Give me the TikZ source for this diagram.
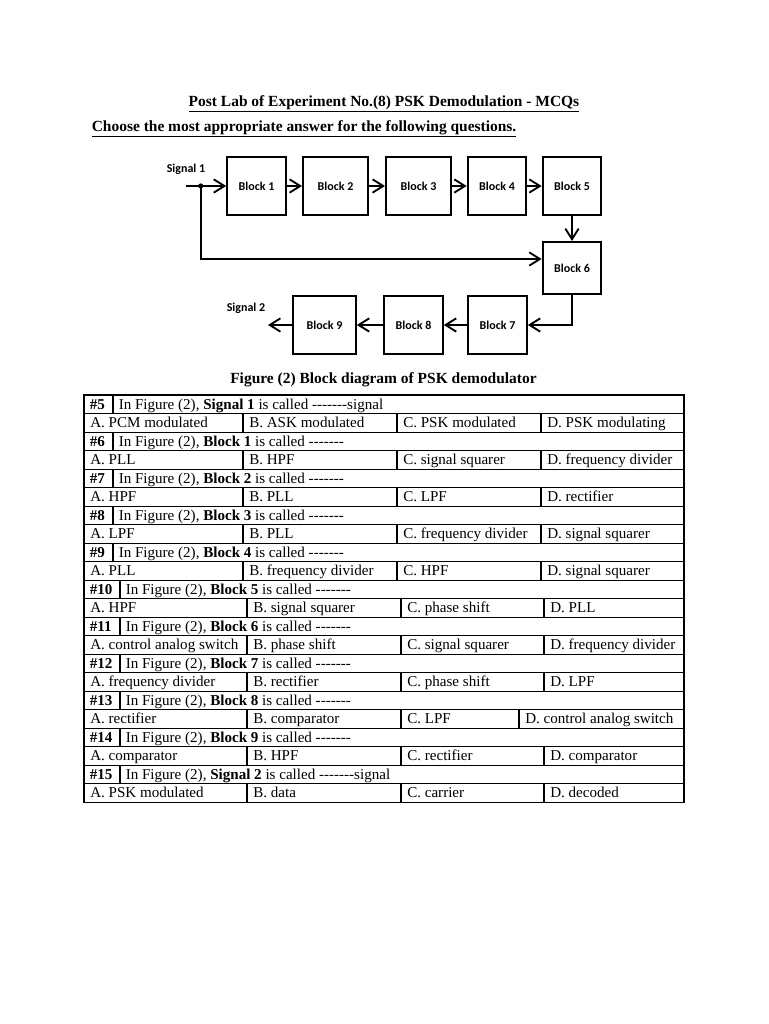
\documentclass[tikz,border=0pt]{standalone}
\usepackage{fontspec}
\setmainfont{Liberation Serif}
\newfontfamily\diagfont{Carlito}
\usetikzlibrary{arrows.meta, positioning}

\newcommand{\blanks}{-{}-{}-{}-{}-{}-{}-}

\begin{document}
\begin{tikzpicture}[
      x=0.75pt, y=-0.75pt,
      blk/.style={draw, line width=1.5pt, minimum width=44pt, minimum height=44pt,
                  inner sep=0pt, font=\diagfont\fontsize{9}{10}\selectfont\bfseries},
      sig/.style={font=\diagfont\fontsize{9}{11}\selectfont\bfseries},
      flow/.style={-{Straight Barb[length=8pt, width=10pt]}, line width=1.4pt},
      cell/.style={anchor=base west, inner sep=0pt, font=\fontsize{11.3}{13}\selectfont},
      head/.style={inner sep=0pt, font=\fontsize{11.6}{13}\selectfont\bfseries},
      grid/.style={line width=0.8pt}
    ]
    \useasboundingbox[fill=white] (0,0) rectangle (768,1024);

    \node[head, anchor=base] (title) at (384,106)
      {\underline{Post Lab of Experiment No.(8) PSK Demodulation - MCQs}};
    \node[head, anchor=base west] (task) at (91.5,131.3)
      {\underline{Choose the most appropriate answer for the following questions.}};

    % block diagram
    \node[blk] (b1) at (256.5,186) {Block 1};
    \node[blk, minimum width=48.75pt] (b2) at (335.5,186) {Block 2};
    \node[blk, minimum width=48.75pt] (b3) at (418.5,186) {Block 3};
    \node[blk] (b4) at (497,186) {Block 4};
    \node[blk] (b5) at (572,186) {Block 5};
    \node[blk, minimum height=39pt] (b6) at (572,268) {Block 6};
    \node[blk] (b7) at (497.5,325) {Block 7};
    \node[blk] (b8) at (413.5,325) {Block 8};
    \node[blk, minimum width=47pt] (b9) at (324.5,325) {Block 9};

    \coordinate (in) at (186,186);
    \coordinate (tap) at (200.7,186);
    \coordinate (out) at (268,325);
    \node[sig] (s1) at (186,169) {Signal 1};
    \node[sig] (s2) at (246,308) {Signal 2};

    \draw[flow] (in) -- (b1);
    \foreach \a/\b in {b1/b2, b2/b3, b3/b4, b4/b5, b5/b6, b7/b8, b8/b9}
      \draw[flow] (\a) -- (\b);
    \draw[flow] (tap) |- ([yshift=6.75pt]b6.west);
    \draw[flow] (b6.south) |- (b7.east);
    \draw[flow] (b9) -- (out);
    \fill (tap) circle[radius=2.6];

    \node[head, anchor=base] (cap) at (383.5,383.3)
      {Figure (2) Block diagram of PSK demodulator};

    % table of questions
    \draw[grid] (84,395) rectangle (684,802.4);
    \foreach \i in {1,...,21}
      \draw[grid] (84,{395+\i*18.52}) -- (684,{395+\i*18.52});

    \foreach \q/\what/\tail [count=\k from 0] in {
        5/Signal 1/signal, 6/Block 1/, 7/Block 2/, 8/Block 3/, 9/Block 4/,
        10/Block 5/, 11/Block 6/, 12/Block 7/, 13/Block 8/, 14/Block 9/,
        15/Signal 2/signal} {
      \pgfmathsetmacro{\ytop}{395+2*\k*18.52}
      \pgfmathsetmacro{\qsep}{\q<10 ? 113 : 120}
      \draw[grid] (\qsep,\ytop) -- (\qsep,{\ytop+18.52});
      \node[cell] (q\q) at (89.5,{\ytop+14}) {\textbf{\#\q}};
      \node[cell] (t\q) at ({\qsep+5.5},{\ytop+14})
        {In Figure (2), \textbf{\what} is called \blanks\tail};
    }

    \foreach \a/\b/\c/\d/\sa/\sb/\sc [count=\k from 0] in {
        PCM modulated/ASK modulated/PSK modulated/PSK modulating/243/397/541,
        PLL/HPF/signal squarer/frequency divider/243/397/541,
        HPF/PLL/LPF/rectifier/243/397/541,
        LPF/PLL/frequency divider/signal squarer/243/397/541,
        PLL/frequency divider/HPF/signal squarer/243/397/541,
        HPF/signal squarer/phase shift/PLL/247/401/544,
        control analog switch/phase shift/signal squarer/frequency divider/247/401/544,
        frequency divider/rectifier/phase shift/LPF/247/401/544,
        rectifier/comparator/LPF/control analog switch/247/401/519,
        comparator/HPF/rectifier/comparator/247/401/544,
        PSK modulated/data/carrier/decoded/247/401/544} {
      \pgfmathsetmacro{\ytop}{395+(2*\k+1)*18.52}
      \foreach \s in {\sa,\sb,\sc}
        \draw[grid] (\s,\ytop) -- (\s,{\ytop+18.52});
      \node[cell] (a\k) at (90,{\ytop+14}) {A. \a};
      \node[cell] (b\k) at ({\sa+6},{\ytop+14}) {B. \b};
      \node[cell] (c\k) at ({\sb+6},{\ytop+14}) {C. \c};
      \node[cell] (d\k) at ({\sc+6},{\ytop+14}) {D. \d};
    }
  \end{tikzpicture}
\end{document}
